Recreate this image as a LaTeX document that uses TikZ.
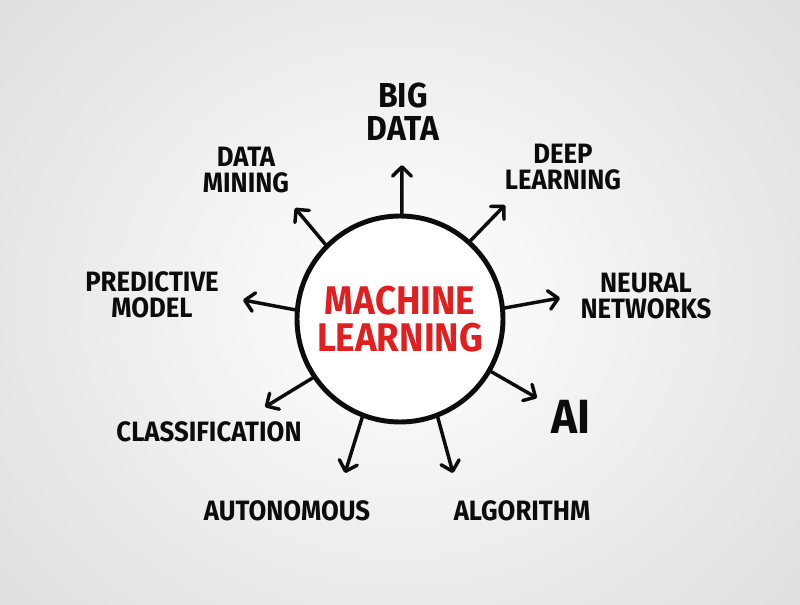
\documentclass[tikz,border=0pt]{standalone}
\usepackage{fontspec}
\setmainfont{Fira Sans}
\newfontfamily\hand[FakeStretch=0.92]{Fira Sans}
\usetikzlibrary{arrows.meta}
\definecolor{mlred}{RGB}{222,32,32}
\definecolor{ink}{RGB}{12,12,12}
\begin{document}
\begin{tikzpicture}[x=0.75pt,y=-0.75pt,
  lbl/.style={align=center, text=ink, inner sep=0pt,
    font=\hand\bfseries\fontsize{21}{19.5}\selectfont},
  biglbl/.style={lbl, font=\hand\bfseries\fontsize{26}{25}\selectfont},
  ailbl/.style={lbl, font=\hand\bfseries\fontsize{36}{36}\selectfont},
  hub/.style={circle, draw=ink, fill=white, line width=3.7pt, minimum size=154.5pt,
    inner sep=0pt, align=center, text=mlred,
    font=\hand\bfseries\fontsize{30}{27.5}\selectfont},
  arr/.style={draw=ink, line width=2.6pt, line cap=round, line join=round,
    -{Straight Barb[length=7pt,width=14pt,line cap=round,line join=round]}}
]
\useasboundingbox (0,0) rectangle (800,605);
\shade[inner color=white, outer color=black!12] (-100,-140) rectangle (900,745);

\node[hub] (ml) at (400,319) {MACHINE\\LEARNING};

\node[biglbl] (bd) at (403,112) {BIG\\DATA};
\node[lbl] (dm) at (246,170) {DATA\\MINING};
\node[lbl] (dl) at (563,167) {DEEP\\LEARNING};
\node[lbl] (pm) at (152,295) {PREDICTIVE\\MODEL};
\node[lbl] (nn) at (646,296) {NEURAL\\NETWORKS};
\node[ailbl] (ai) at (571,417) {AI};
\node[lbl] (cl) at (209,432) {CLASSIFICATION};
\node[lbl] (au) at (287,511) {AUTONOMOUS};
\node[lbl] (al) at (522,511) {ALGORITHM};

\coordinate (tbd) at (402,165);
\coordinate (tdl) at (505,205);
\coordinate (tdm) at (295,208);
\coordinate (tpm) at (243,300);
\coordinate (tcl) at (265,407);
\coordinate (tau) at (345,473);
\coordinate (tal) at (453,473);
\coordinate (tnn) at (560,298);
\coordinate (tai) at (537,398);

\draw[arr] (ml.89) -- (tbd);
\draw[arr] (ml.48) -- (tdl);
\draw[arr] (ml.135) -- (tdm);
\draw[arr] (ml.175) -- (tpm);
\draw[arr] (ml.214) -- (tcl);
\draw[arr] (ml.249) -- (tau);
\draw[arr] (ml.291) -- (tal);
\draw[arr] (ml.6.5) -- (tnn);
\draw[arr] (ml.330) -- (tai);
\end{tikzpicture}
\end{document}
